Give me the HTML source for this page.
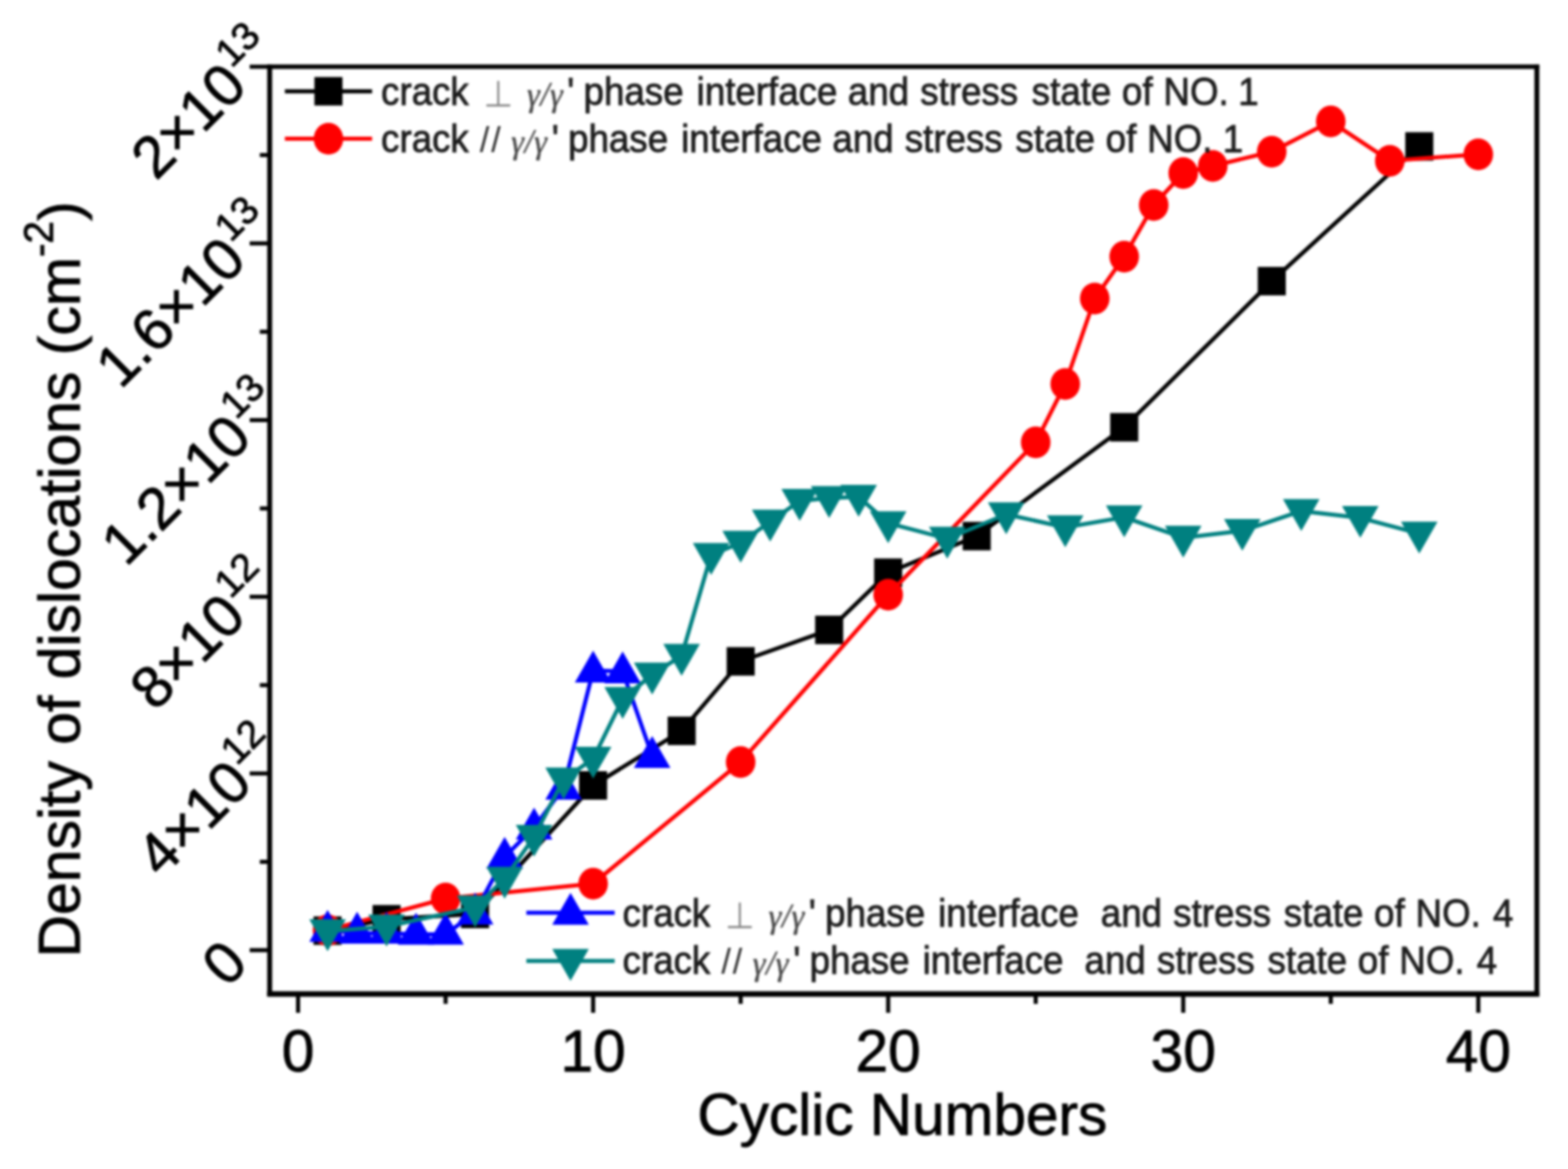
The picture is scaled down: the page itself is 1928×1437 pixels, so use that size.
<!DOCTYPE html>
<html lang="en"><head><meta charset="utf-8"><title>Density of dislocations vs Cyclic Numbers</title>
<style>
html,body{margin:0;padding:0;background:#fff;}
body{width:1928px;height:1437px;overflow:hidden;}
svg{display:block;filter:blur(1.6px);}
text{font-family:"Liberation Sans",sans-serif;fill:#000;}
.tick{font-size:72px;stroke:#000;stroke-width:1px;}
.sup{font-size:48px;}
.ysup{font-size:50px;}
.leg{font-size:48.5px;fill:#1c1c1c;stroke:#1c1c1c;stroke-width:1px;}
.sym{font-family:"Liberation Serif","DejaVu Serif",serif;font-style:italic;font-size:43px;letter-spacing:0.8px;fill:#444;stroke:#444;stroke-width:0.4px;}
.par{letter-spacing:2.5px;font-size:45px;fill:#2a2a2a;stroke:none;}
.perp{font-family:"DejaVu Sans","Liberation Sans",sans-serif;font-size:45px;fill:#888;stroke:none;}
</style></head><body>
<svg width="1928" height="1437" viewBox="0 0 1928 1437">
<rect width="1928" height="1437" fill="#fff"/>
<g id="series-black">
<polyline points="402.8,1144.0 475.3,1130.0 584.2,1123.5 729.3,965.5 838.1,898.4 910.7,813.0 1019.5,774.3 1092.1,704.0 1200.9,659.0 1382.3,525.2 1563.7,345.6 1745.1,180.0" fill="none" stroke="#000" stroke-width="5.0" stroke-linejoin="round"/>
<rect x="385.5" y="1126.5" width="34.5" height="35.0" fill="#000"/>
<rect x="458.1" y="1112.5" width="34.5" height="35.0" fill="#000"/>
<rect x="566.9" y="1106.0" width="34.5" height="35.0" fill="#000"/>
<rect x="712.0" y="948.0" width="34.5" height="35.0" fill="#000"/>
<rect x="820.9" y="880.9" width="34.5" height="35.0" fill="#000"/>
<rect x="893.5" y="795.5" width="34.5" height="35.0" fill="#000"/>
<rect x="1002.3" y="756.8" width="34.5" height="35.0" fill="#000"/>
<rect x="1074.8" y="686.5" width="34.5" height="35.0" fill="#000"/>
<rect x="1183.7" y="641.5" width="34.5" height="35.0" fill="#000"/>
<rect x="1365.1" y="507.7" width="34.5" height="35.0" fill="#000"/>
<rect x="1546.5" y="328.1" width="34.5" height="35.0" fill="#000"/>
<rect x="1727.9" y="162.5" width="34.5" height="35.0" fill="#000"/>
</g>
<g id="series-red">
<polyline points="402.8,1143.5 547.9,1104.5 729.3,1086.3 910.7,936.7 1092.1,731.0 1273.5,543.8 1309.8,472.0 1346.1,366.9 1382.3,315.5 1418.6,252.0 1454.9,212.8 1491.2,204.0 1563.7,186.5 1636.3,149.3 1708.9,197.7 1817.7,189.7" fill="none" stroke="#f00" stroke-width="5.0" stroke-linejoin="round"/>
<ellipse cx="402.8" cy="1143.5" rx="18.2" ry="19.5" fill="#f00"/>
<ellipse cx="547.9" cy="1104.5" rx="18.2" ry="19.5" fill="#f00"/>
<ellipse cx="729.3" cy="1086.3" rx="18.2" ry="19.5" fill="#f00"/>
<ellipse cx="910.7" cy="936.7" rx="18.2" ry="19.5" fill="#f00"/>
<ellipse cx="1092.1" cy="731.0" rx="18.2" ry="19.5" fill="#f00"/>
<ellipse cx="1273.5" cy="543.8" rx="18.2" ry="19.5" fill="#f00"/>
<ellipse cx="1309.8" cy="472.0" rx="18.2" ry="19.5" fill="#f00"/>
<ellipse cx="1346.1" cy="366.9" rx="18.2" ry="19.5" fill="#f00"/>
<ellipse cx="1382.3" cy="315.5" rx="18.2" ry="19.5" fill="#f00"/>
<ellipse cx="1418.6" cy="252.0" rx="18.2" ry="19.5" fill="#f00"/>
<ellipse cx="1454.9" cy="212.8" rx="18.2" ry="19.5" fill="#f00"/>
<ellipse cx="1491.2" cy="204.0" rx="18.2" ry="19.5" fill="#f00"/>
<ellipse cx="1563.7" cy="186.5" rx="18.2" ry="19.5" fill="#f00"/>
<ellipse cx="1636.3" cy="149.3" rx="18.2" ry="19.5" fill="#f00"/>
<ellipse cx="1708.9" cy="197.7" rx="18.2" ry="19.5" fill="#f00"/>
<ellipse cx="1817.7" cy="189.7" rx="18.2" ry="19.5" fill="#f00"/>
</g>
<g id="series-blue">
<polyline points="402.8,1143.0 439.1,1147.2 475.3,1147.2 511.6,1148.5 547.9,1148.5 584.2,1121.7 620.5,1053.3 656.7,1017.3 693.0,968.3 729.3,824.3 765.6,825.3 801.9,929.3" fill="none" stroke="#00f" stroke-width="5.0" stroke-linejoin="round"/>
<polygon points="402.8,1118.5 380.3,1157.7 425.3,1157.7" fill="#00f"/>
<polygon points="439.1,1120.7 416.6,1159.9 461.6,1159.9" fill="#00f"/>
<polygon points="475.3,1120.7 452.8,1159.9 497.8,1159.9" fill="#00f"/>
<polygon points="511.6,1122.0 489.1,1161.2 534.1,1161.2" fill="#00f"/>
<polygon points="547.9,1122.0 525.4,1161.2 570.4,1161.2" fill="#00f"/>
<polygon points="584.2,1097.2 561.7,1136.4 606.7,1136.4" fill="#00f"/>
<polygon points="620.5,1028.8 598.0,1068.0 643.0,1068.0" fill="#00f"/>
<polygon points="656.7,992.8 634.2,1032.0 679.2,1032.0" fill="#00f"/>
<polygon points="693.0,943.8 670.5,983.0 715.5,983.0" fill="#00f"/>
<polygon points="729.3,799.8 706.8,839.0 751.8,839.0" fill="#00f"/>
<polygon points="765.6,800.8 743.1,840.0 788.1,840.0" fill="#00f"/>
<polygon points="801.9,904.8 779.4,944.0 824.4,944.0" fill="#00f"/>
</g>
<g id="series-teal">
<polyline points="402.8,1144.7 475.3,1138.9 584.2,1115.4 620.5,1080.2 656.7,1028.6 693.0,958.2 729.3,932.6 765.6,859.2 801.9,829.2 838.1,806.2 874.4,682.2 910.7,667.2 947.0,641.2 983.3,615.7 1019.5,612.2 1055.8,610.7 1092.1,643.2 1164.7,662.2 1237.2,632.2 1309.8,648.2 1382.3,635.9 1454.9,660.9 1527.5,652.6 1600.0,628.2 1672.6,636.6 1745.1,655.9" fill="none" stroke="#008080" stroke-width="5.0" stroke-linejoin="round"/>
<polygon points="402.8,1169.2 380.3,1130.0 425.3,1130.0" fill="#008080"/>
<polygon points="475.3,1163.4 452.8,1124.2 497.8,1124.2" fill="#008080"/>
<polygon points="584.2,1139.9 561.7,1100.7 606.7,1100.7" fill="#008080"/>
<polygon points="620.5,1104.7 598.0,1065.5 643.0,1065.5" fill="#008080"/>
<polygon points="656.7,1053.1 634.2,1013.9 679.2,1013.9" fill="#008080"/>
<polygon points="693.0,982.7 670.5,943.5 715.5,943.5" fill="#008080"/>
<polygon points="729.3,957.1 706.8,917.9 751.8,917.9" fill="#008080"/>
<polygon points="765.6,883.7 743.1,844.5 788.1,844.5" fill="#008080"/>
<polygon points="801.9,853.7 779.4,814.5 824.4,814.5" fill="#008080"/>
<polygon points="838.1,830.7 815.6,791.5 860.6,791.5" fill="#008080"/>
<polygon points="874.4,706.7 851.9,667.5 896.9,667.5" fill="#008080"/>
<polygon points="910.7,691.7 888.2,652.5 933.2,652.5" fill="#008080"/>
<polygon points="947.0,665.7 924.5,626.5 969.5,626.5" fill="#008080"/>
<polygon points="983.3,640.2 960.8,601.0 1005.8,601.0" fill="#008080"/>
<polygon points="1019.5,636.7 997.0,597.5 1042.0,597.5" fill="#008080"/>
<polygon points="1055.8,635.2 1033.3,596.0 1078.3,596.0" fill="#008080"/>
<polygon points="1092.1,667.7 1069.6,628.5 1114.6,628.5" fill="#008080"/>
<polygon points="1164.7,686.7 1142.2,647.5 1187.2,647.5" fill="#008080"/>
<polygon points="1237.2,656.7 1214.7,617.5 1259.7,617.5" fill="#008080"/>
<polygon points="1309.8,672.7 1287.3,633.5 1332.3,633.5" fill="#008080"/>
<polygon points="1382.3,660.4 1359.8,621.2 1404.8,621.2" fill="#008080"/>
<polygon points="1454.9,685.4 1432.4,646.2 1477.4,646.2" fill="#008080"/>
<polygon points="1527.5,677.1 1505.0,637.9 1550.0,637.9" fill="#008080"/>
<polygon points="1600.0,652.7 1577.5,613.5 1622.5,613.5" fill="#008080"/>
<polygon points="1672.6,661.1 1650.1,621.9 1695.1,621.9" fill="#008080"/>
<polygon points="1745.1,680.4 1722.6,641.2 1767.6,641.2" fill="#008080"/>
</g>
<g id="axes" stroke="#000" fill="none">
<path d="M328.6,82.0H1892.7" stroke-width="5.6"/>
<path d="M328.6,1221.8999999999999H1892.7" stroke-width="6.6"/>
<path d="M331.6,79.5V1225.1" stroke-width="6.0"/>
<path d="M1889.7,79.5V1225.1" stroke-width="6.0"/>
<line x1="307" y1="1168.0" x2="331.6" y2="1168.0" stroke-width="5"/>
<line x1="319.5" y1="1059.4" x2="331.6" y2="1059.4" stroke-width="5"/>
<line x1="307" y1="950.8" x2="331.6" y2="950.8" stroke-width="5"/>
<line x1="319.5" y1="842.2" x2="331.6" y2="842.2" stroke-width="5"/>
<line x1="307" y1="733.6" x2="331.6" y2="733.6" stroke-width="5"/>
<line x1="319.5" y1="625.0" x2="331.6" y2="625.0" stroke-width="5"/>
<line x1="307" y1="516.4" x2="331.6" y2="516.4" stroke-width="5"/>
<line x1="319.5" y1="407.8" x2="331.6" y2="407.8" stroke-width="5"/>
<line x1="307" y1="299.2" x2="331.6" y2="299.2" stroke-width="5"/>
<line x1="319.5" y1="190.6" x2="331.6" y2="190.6" stroke-width="5"/>
<line x1="307" y1="82.0" x2="331.6" y2="82.0" stroke-width="5"/>
<line x1="366.5" y1="1222.1" x2="366.5" y2="1245" stroke-width="5"/>
<line x1="547.9" y1="1222.1" x2="547.9" y2="1234" stroke-width="5"/>
<line x1="729.3" y1="1222.1" x2="729.3" y2="1245" stroke-width="5"/>
<line x1="910.7" y1="1222.1" x2="910.7" y2="1234" stroke-width="5"/>
<line x1="1092.1" y1="1222.1" x2="1092.1" y2="1245" stroke-width="5"/>
<line x1="1273.5" y1="1222.1" x2="1273.5" y2="1234" stroke-width="5"/>
<line x1="1454.9" y1="1222.1" x2="1454.9" y2="1245" stroke-width="5"/>
<line x1="1636.3" y1="1222.1" x2="1636.3" y2="1234" stroke-width="5"/>
<line x1="1817.7" y1="1222.1" x2="1817.7" y2="1245" stroke-width="5"/>
</g>
<g id="xlabels" class="tick" text-anchor="middle">
<text x="366.5" y="1317">0</text>
<text x="729.3" y="1317">10</text>
<text x="1092.1" y="1317">20</text>
<text x="1454.9" y="1317">30</text>
<text x="1817.7" y="1317">40</text>
</g>
<text id="xtitle" class="tick" text-anchor="middle" x="1109.5" y="1394.5">Cyclic Numbers</text>
<text id="ytitle" class="tick" style="font-size:72.4px" transform="translate(98.3,1177) rotate(-90)">Density of dislocations (cm<tspan class="ysup" dy="-33">-2</tspan><tspan dy="33">)</tspan></text>
<g id="ylabels" class="tick">
<text transform="translate(191.7,223.0) rotate(-45)">2×10<tspan class="sup" dx="1.5" dy="-32.2">13</tspan></text>
<text transform="translate(148.3,479.6) rotate(-45)">1.6×10<tspan class="sup" dx="1.5" dy="-32.2">13</tspan></text>
<text transform="translate(155.0,697.7) rotate(-45)">1.2×10<tspan class="sup" dx="1.5" dy="-32.2">13</tspan></text>
<text transform="translate(190.4,875.6) rotate(-45)">8×10<tspan class="sup" dx="1.5" dy="-32.2">12</tspan></text>
<text transform="translate(198.2,1080.4) rotate(-45)">4×10<tspan class="sup" dx="1.5" dy="-32.2">12</tspan></text>
<text transform="translate(279.1,1215.2) rotate(-45)">0</text>
</g>
<g id="legend">
<line x1="350.3" y1="112.2" x2="457.5" y2="112.2" stroke="#000" stroke-width="5.0"/>
<rect x="386.6" y="94.7" width="34.5" height="35.0" fill="#000"/>
<text class="leg" transform="scale(0.93,1)"><tspan x="503.9" y="129.0">crack </tspan><tspan x="639.2" y="131.5" class="perp">⊥ </tspan><tspan x="696.8" y="130.0" class="sym">γ/γ</tspan><tspan x="750.1" y="129.0">' </tspan><tspan x="771.6" y="129.0">phase </tspan><tspan x="921.1" y="129.0">interface </tspan><tspan x="1121.1" y="129.0">and </tspan><tspan x="1216.8" y="129.0">stress </tspan><tspan x="1364.1" y="129.0">state </tspan><tspan x="1483.4" y="129.0">of </tspan><tspan x="1538.3" y="129.0">NO. </tspan><tspan x="1637.2" y="129.0">1 </tspan></text>
<line x1="350.3" y1="170.6" x2="457.5" y2="170.6" stroke="#f00" stroke-width="5.0"/>
<ellipse cx="403.9" cy="170.6" rx="18.2" ry="19.5" fill="#f00"/>
<text class="leg" transform="scale(0.93,1)"><tspan x="503.9" y="186.6">crack </tspan><tspan x="634.4" y="186.6" class="par">// </tspan><tspan x="675.8" y="187.6" class="sym">γ/γ</tspan><tspan x="729.7" y="186.6">' </tspan><tspan x="751.2" y="186.6">phase </tspan><tspan x="900.6" y="186.6">interface </tspan><tspan x="1100.6" y="186.6">and </tspan><tspan x="1196.3" y="186.6">stress </tspan><tspan x="1342.6" y="186.6">state </tspan><tspan x="1461.9" y="186.6">of </tspan><tspan x="1516.8" y="186.6">NO. </tspan><tspan x="1616.8" y="186.6">1 </tspan></text>
<line x1="647.2" y1="1122.1" x2="755.8" y2="1122.1" stroke="#00f" stroke-width="5.0"/>
<polygon points="701.5,1097.6 679.0,1136.8 724.0,1136.8" fill="#00f"/>
<text class="leg" transform="scale(0.93,1)"><tspan x="823.2" y="1138.6">crack </tspan><tspan x="958.6" y="1141.1" class="perp">⊥ </tspan><tspan x="1016.1" y="1139.6" class="sym">γ/γ</tspan><tspan x="1069.5" y="1138.6">' </tspan><tspan x="1091.0" y="1138.6">phase </tspan><tspan x="1240.4" y="1138.6">interface </tspan><tspan x="1455.5" y="1138.6">and </tspan><tspan x="1551.2" y="1138.6">stress </tspan><tspan x="1697.4" y="1138.6">state </tspan><tspan x="1816.8" y="1138.6">of </tspan><tspan x="1871.6" y="1138.6">NO. </tspan><tspan x="1973.8" y="1138.6">4 </tspan></text>
<line x1="647.2" y1="1181.3" x2="755.8" y2="1181.3" stroke="#008080" stroke-width="5.0"/>
<polygon points="701.5,1205.8 679.0,1166.6 724.0,1166.6" fill="#008080"/>
<text class="leg" transform="scale(0.93,1)"><tspan x="823.2" y="1196.6">crack </tspan><tspan x="953.8" y="1196.6" class="par">// </tspan><tspan x="995.2" y="1197.6" class="sym">γ/γ</tspan><tspan x="1049.0" y="1196.6">' </tspan><tspan x="1070.5" y="1196.6">phase </tspan><tspan x="1220.0" y="1196.6">interface </tspan><tspan x="1434.0" y="1196.6">and </tspan><tspan x="1529.7" y="1196.6">stress </tspan><tspan x="1675.9" y="1196.6">state </tspan><tspan x="1795.3" y="1196.6">of </tspan><tspan x="1850.1" y="1196.6">NO. </tspan><tspan x="1952.3" y="1196.6">4 </tspan></text>
</g>
</svg>
</body></html>
